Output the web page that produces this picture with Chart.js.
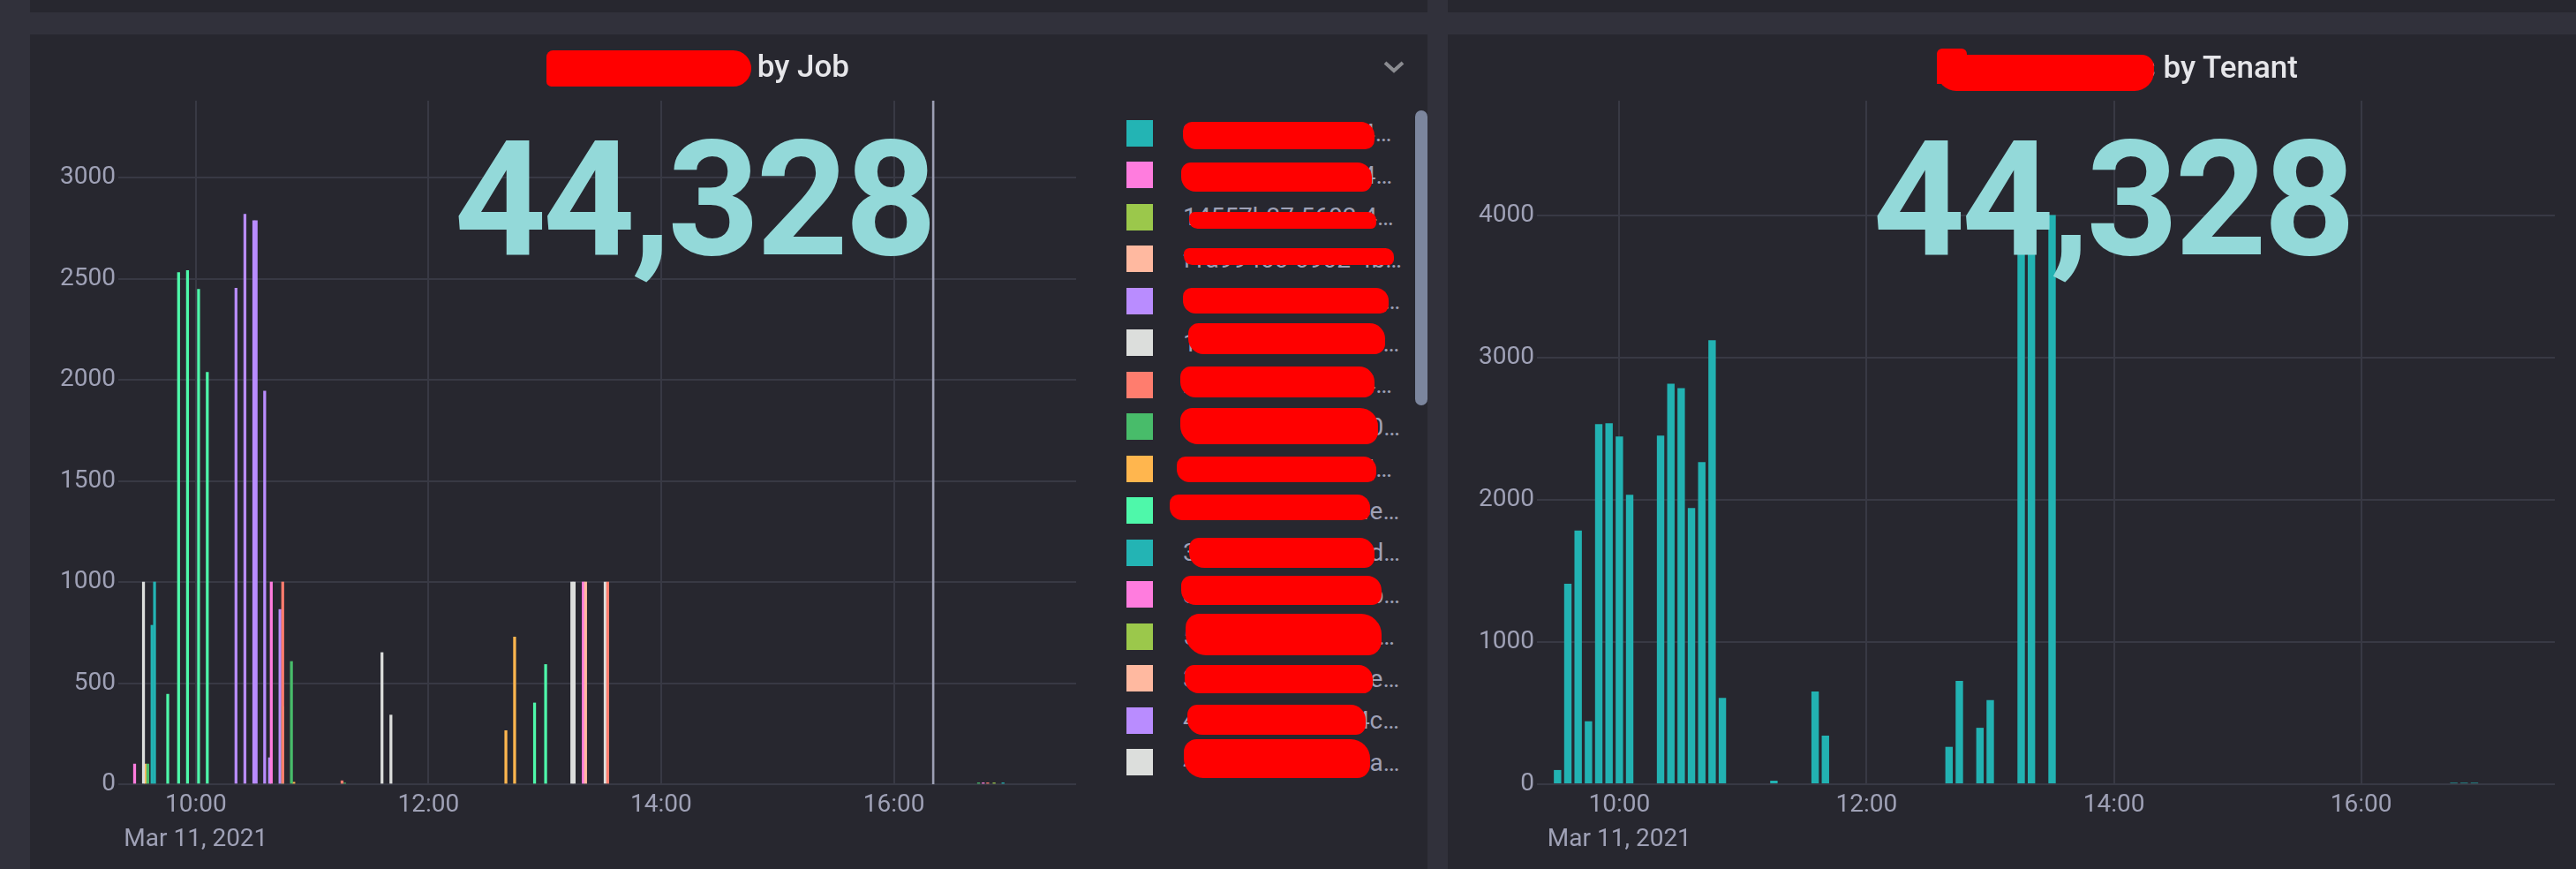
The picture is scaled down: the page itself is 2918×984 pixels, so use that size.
<!DOCTYPE html>
<html>
<head>
<meta charset="utf-8">
<script src="https://cdn.jsdelivr.net/npm/chart.js@4.4.1/dist/chart.umd.min.js"></script>
<style>
  html, body { margin: 0; padding: 0; width: 2918px; height: 984px; overflow: hidden;
    background: #31313b; font-family: Roboto, "Noto Sans", sans-serif; }
  .blk { position: absolute; background: #27272f; }
  canvas { position: absolute; display: block; }
  .title { position: absolute; font-size: 35px; font-weight: 500; color: #e6e6ea; line-height: 35px;
    white-space: nowrap; text-align: right; }
  .big { position: absolute; width: 800px; text-align: center; font-weight: 700; font-size: 182px;
    line-height: 182px; letter-spacing: -4px; color: #93d9d9; pointer-events: none; white-space: nowrap; }
  .red { position: absolute; background: #ff0000; }
  #legend { position: absolute; left: 1260px; top: 125px; width: 343px; height: 765px;
    padding-top: 2px; overflow: hidden; }
  .li { position: relative; height: 47.5px; display: flex; align-items: center; }
  .li .box { width: 30px; height: 30px; margin-left: 16px; flex: none; }
  .li .txt { margin-left: 34px; width: 248px; white-space: nowrap; overflow: hidden;
    text-overflow: ellipsis; font-size: 28px; color: #9fa1b6; }
  #thumb { position: absolute; left: 1603px; top: 125px; width: 14px; border-radius: 7px; background: #7c869e; }
</style>
</head>
<body>
<div class="blk" style="left:34px;top:0;width:1583px;height:14px"></div>
<div class="blk" style="left:1640px;top:0;width:1278px;height:14px"></div>
<div class="blk" style="left:34px;top:39px;width:1583px;height:945px"></div>
<div class="blk" style="left:1640px;top:39px;width:1278px;height:945px"></div>

<canvas id="jobChart" width="1226" height="945" style="left:34px;top:39px"></canvas>
<canvas id="tenantChart" width="1278" height="945" style="left:1640px;top:39px"></canvas>

<div class="title" style="right:1956px;top:58px">Records by Job</div>
<div class="red" style="left:619px;top:57px;width:232px;height:41px;border-radius:8px 22px 22px 6px"></div>
<div class="title" style="right:315px;top:59px">Records by Tenant</div>
<div class="red" style="left:2194px;top:62px;width:246px;height:41px;border-radius:4px 14px 22px 22px"></div>
<div class="red" style="left:2194px;top:55px;width:34px;height:40px;border-radius:6px 6px 0 0"></div>

<svg style="position:absolute;left:1566px;top:68px" width="26" height="16">
  <polyline points="3,3 13,12 23,3" fill="none" stroke="#8b8c91" stroke-width="4"/>
</svg>

<div id="legend"></div>
<div id="thumb"></div>

<div class="big" id="bigL" style="left:386px;top:135px"></div>
<div class="big" id="bigR" style="left:1993px;top:135px"></div>

<script>
// ---------------- data ----------------
const rangeStart = '09:20';
const rangeEnd = '17:34';
const tickTimes = ['10:00', '12:00', '14:00', '16:00'];
const dateLabel = 'Mar 11, 2021';

const jobYTicks = [0, 500, 1000, 1500, 2000, 2500, 3000];
const jobYMax = 3380;
const tenantYTicks = [0, 1000, 2000, 3000, 4000];
const tenantYMax = 4810;

// "by Tenant" panel: one tenant, 5-minute buckets
const tenantTimes = ['09:30', '09:35', '09:40', '09:45', '09:50', '09:55', '10:00', '10:05',
  '10:20', '10:25', '10:30', '10:35', '10:40', '10:45', '10:50',
  '11:15', '11:35', '11:40', '12:40', '12:45', '12:55', '13:00',
  '13:15', '13:20', '13:30', '16:45', '16:50', '16:55'];
const tenantValues = [100, 1410, 1785, 443, 2534, 2540, 2447, 2037,
  2453, 2818, 2787, 1944, 2267, 3124, 607,
  25, 652, 342, 263, 727, 397, 592,
  3999, 3999, 4006, 10, 10, 10];

// "by Job" panel: job ids (legend) and colour cycle
const jobLabels = [
  '3ab02c71-d9e0-4d02-a1f3-77c2e9b0d1a4', '0a4c9d02-4d89-4c1e-b7a2-19f0e6d3c5b8',
  '14557b27-5602-4a8e-9c31-d0f4b6e2a719', 'f1a99400-0902-4b6d-8e15-a3c7f2d9e4b0',
  '15f2e6c8-7a31-4d90-b2c4-e8a1f0d3c6b5', '1e0c7b94-3f2a-4e61-9d8c-b5a0e2f7c142',
  '20b6d1e8-9c45-4a3f-8e27-c1d9b0f6a5e3', 'c4e8a2f1-6b0d-2082-9f3c-a7e5d1b8c0f4',
  '29100c5e-8d17-4a02-b6e9-f3c1a0d8e7b2', '2f7a1c9e-4b3d-4e8f-a0c6-d5b2e9f1c3a7',
  '3c9e0b7a-2f41-4d02-8a6c-e1b5f9d3c0e8', '3e1d8f2c-7a09-4b5e-92c1-a6f0d4b8e3c2',
  '5a2c7e9f-1d3b-4f60-8b4e-c0a9d2f6e1b7', '3f8b1e4d-9c2a-4e7f-b0d5-a3c6e8f1d9b4',
  '4b7e2a9c-3f1d-4c8e-a5b0-d2f9e6c1a3b7', '4d0a6f3e-8b2c-4a9d-91e7-f5c3b0d8a2e6',
  '5c1f9a7d-2e6b-4d3c-8f0a-b7e4c2d9a1f5', '6a3d0e8b-5f2c-4b1e-9a7d-c4f1e0b6d2a8',
  '6e9b2c5f-0a4d-4f8e-b3c1-d7a0e5f2b9c6', '7b4e1a8d-6c3f-4e2a-80b9-f1d5c8e3a0b7',
  '7f0c5d2a-9e1b-4a6d-b4c8-e2f7a1d9c3b5', '82d6a9f1-3b7e-4c0d-a5e2-b8f4c1a6d9e0',
  '8a1e7c4b-0d5f-4b9a-96e3-c2d8f0b5a1e4', '8f5b3e0c-7a2d-4e6f-a1b9-d4c7e8f2a0b3',
  '93c0f6a2-4e8b-4d1c-b7f5-a9e2d3c0b6f8', '9b7d2e5f-1c0a-4f3e-8d6b-e5a4f9c1d7b2',
  'a2e8c1f4-6b9d-4a5e-b0c3-f7d2e8a5c1b9', 'a7f4d0b9-3e2c-4c8a-91d6-b3e0f5a7d4c2',
  'b1c6e9a3-8d4f-4e0b-a2c7-d9f1b4e6a8c3', 'b5e0a7d2-2f9c-4b6e-8c3a-e1d7c0f9b5a4',
  'bb3f8c1e-5a0d-4d7f-b9e4-a6c2d8f1e3b0', 'c0d9b4f7-7e1a-4a2c-85f0-b2e9a3d6c7f1',
  'c8a2e5d0-1f6b-4f9d-a3e7-c5b0f2e8d4a6', 'd3f7a0c6-9b2e-4c5a-b8d1-e0f4a7c3b9e2',
  'd9b1e4a8-4c7f-4e3d-92a5-f6c8b1d0e7a3', 'e4c7f2b5-0a8d-4b1f-a6e9-d3a5c9f2b8e0',
  'f7a5d3e1-6c0b-4d8e-b1f2-a8e6d4c0f5b9'];
const jobPalette = ['#23b4b4', '#ff7cde', '#9bc84b', '#ffb9a0', '#b98cff',
  '#dcdedc', '#ff7d6e', '#48bc6a', '#ffb64e', '#4ef8aa'];

// individual job bars: job index, time stamp, value
const barJob = [1, 5, 8, 7, 10, 20, 9, 9, 9, 9, 9, 4, 4, 4, 14, 4, 24, 11, 24, 6, 17, 7, 8,
  6, 7, 5, 5, 8, 8, 19, 19, 15, 25, 11, 3, 35, 16, 27, 21, 26, 2, 0];
const barTime = ['09:28:25', '09:33:00', '09:34:00', '09:35:12', '09:37:24', '09:38:42',
  '09:45:30', '09:51:06', '09:55:42', '10:01:24', '10:05:54',
  '10:20:42', '10:25:18', '10:29:54', '10:31:06', '10:35:30', '10:38:00', '10:38:54',
  '10:43:24', '10:44:48', '10:44:48', '10:49:18', '10:50:30',
  '11:15:24', '11:16:42', '11:36:00', '11:40:36',
  '12:39:54', '12:44:24', '12:54:42', '13:00:24',
  '13:13:54', '13:15:06', '13:19:48', '13:21:00', '13:31:06', '13:32:24',
  '16:43:42', '16:46:06', '16:48:24', '16:51:42', '16:56:18'];
const barValue = [100, 1000, 100, 100, 786, 1000, 445, 2530, 2540, 2447, 2037,
  2453, 2818, 2787, 2787, 1944, 131, 1000, 864, 1000, 384, 607, 10,
  17, 6, 651, 342, 265, 728, 402, 592,
  1000, 1000, 1000, 1000, 1000, 1000, 7, 7, 7, 7, 7];

const cursorTime = '16:20:18';

// ---------------- helpers ----------------
const toMin = s => { const p = s.split(':').map(Number); return p[0] * 60 + p[1] + (p[2] || 0) / 60; };
const fmt = v => { const h = Math.floor(v / 60), m = Math.round(v - h * 60);
  return String(h).padStart(2, '0') + ':' + String(m).padStart(2, '0'); };

const GRID = '#383944';
const TICK = '#9fa1b6';
Chart.defaults.font.family = 'Roboto, "Noto Sans", sans-serif';

function xAxis() {
  return {
    type: 'linear', min: toMin(rangeStart), max: toMin(rangeEnd), offset: false,
    grid: { color: GRID, lineWidth: 2, drawTicks: false, offset: false },
    border: { display: false },
    afterBuildTicks: s => { s.ticks = tickTimes.map(t => ({ value: toMin(t) })); },
    afterFit: s => { s.height = 96; },
    ticks: { color: TICK, font: { size: 28, lineHeight: 1.4 }, padding: 4, maxRotation: 0,
      minRotation: 0, autoSkip: false,
      callback: (v, i) => i === 0 ? [fmt(v), dateLabel] : fmt(v) }
  };
}
function yAxis(max, ticks, width) {
  return {
    type: 'linear', min: 0, max: max,
    grid: { color: GRID, lineWidth: 2, drawTicks: false },
    border: { display: false },
    afterBuildTicks: s => { s.ticks = ticks.map(v => ({ value: v })); },
    afterFit: s => { s.width = width; },
    ticks: { color: TICK, font: { size: 28 }, padding: 3, callback: v => String(v) }
  };
}

// ---------------- job chart ----------------
const jobDatasets = jobLabels.map((label, j) => ({
  label: label,
  data: barJob.map((b, k) => b === j ? { x: toMin(barTime[k]), y: barValue[k] } : null).filter(Boolean),
  backgroundColor: jobPalette[j % jobPalette.length],
  borderWidth: 0,
  grouped: false,
  barThickness: 2.6
}));

const cursorPlugin = {
  id: 'cursorLine',
  afterDatasetsDraw(chart) {
    const x = chart.scales.x.getPixelForValue(toMin(cursorTime));
    const { top, bottom } = chart.chartArea;
    const ctx = chart.ctx;
    ctx.save();
    ctx.strokeStyle = '#9c9fb4';
    ctx.lineWidth = 2.6;
    ctx.beginPath(); ctx.moveTo(x, top); ctx.lineTo(x, bottom); ctx.stroke();
    ctx.restore();
  }
};

const redactMarks = [
  [1340, 1557, -12.5, 31], [1338, 1554, -14, 33], [1347, 1559, -5.5, 19], [1341, 1579, -12, 19],
  [1340, 1573, -14.5, 29], [1346, 1569, -22, 35], [1337, 1557, -20.5, 35], [1337, 1561, -21, 41],
  [1333, 1559, -13.5, 29], [1325, 1552, -18, 29], [1347, 1557, -16.5, 34], [1338, 1565, -21, 33],
  [1343, 1565, -25.5, 47], [1342, 1555, -15, 32], [1345, 1547, -17.5, 34], [1341, 1552, -26, 44]];

const htmlLegend = {
  id: 'htmlLegend',
  afterUpdate(chart) {
    const box = document.getElementById('legend');
    box.innerHTML = '';
    chart.data.datasets.forEach((ds, i) => {
      const row = document.createElement('div'); row.className = 'li';
      const sw = document.createElement('div'); sw.className = 'box'; sw.style.background = ds.backgroundColor;
      const tx = document.createElement('div'); tx.className = 'txt'; tx.textContent = ds.label;
      row.appendChild(sw); row.appendChild(tx);
      const m = redactMarks[i] || [1340, 1557, -15, 32];
      const r = document.createElement('div'); r.className = 'red';
      r.style.left = (m[0] - 1260) + 'px'; r.style.width = (m[1] - m[0]) + 'px';
      r.style.top = (23.75 + m[2]) + 'px'; r.style.height = m[3] + 'px';
      r.style.borderRadius = (m[3] / 3) + 'px ' + (m[3] / 2) + 'px';
      row.appendChild(r);
      box.appendChild(row);
    });
    const H = box.clientHeight, C = box.scrollHeight;
    document.getElementById('thumb').style.height = Math.round(H * H / C) + 'px';
  }
};

new Chart(document.getElementById('jobChart'), {
  type: 'bar',
  data: { datasets: jobDatasets },
  options: {
    responsive: false, animation: false,
    layout: { padding: { left: 0, top: 75, right: 41, bottom: 0 } },
    plugins: { legend: { display: false }, tooltip: { enabled: false }, title: { display: false } },
    scales: { x: xAxis(), y: yAxis(jobYMax, jobYTicks, 100) }
  },
  plugins: [cursorPlugin, htmlLegend]
});

// ---------------- tenant chart ----------------
new Chart(document.getElementById('tenantChart'), {
  type: 'bar',
  data: { datasets: [{
    label: 'Tenant',
    data: tenantTimes.map((t, i) => ({ x: toMin(t), y: tenantValues[i] })),
    backgroundColor: '#22b2b2', borderWidth: 0
  }] },
  options: {
    responsive: false, animation: false,
    layout: { padding: { left: 0, top: 75, right: 24, bottom: 0 } },
    plugins: { legend: { display: false }, tooltip: { enabled: false }, title: { display: false } },
    scales: { x: xAxis(), y: yAxis(tenantYMax, tenantYTicks, 101) }
  }
});

const total = tenantValues.reduce((a, b) => a + b, 0).toLocaleString('en-US');
document.getElementById('bigL').textContent = total;
document.getElementById('bigR').textContent = total;
</script>
</body>
</html>
